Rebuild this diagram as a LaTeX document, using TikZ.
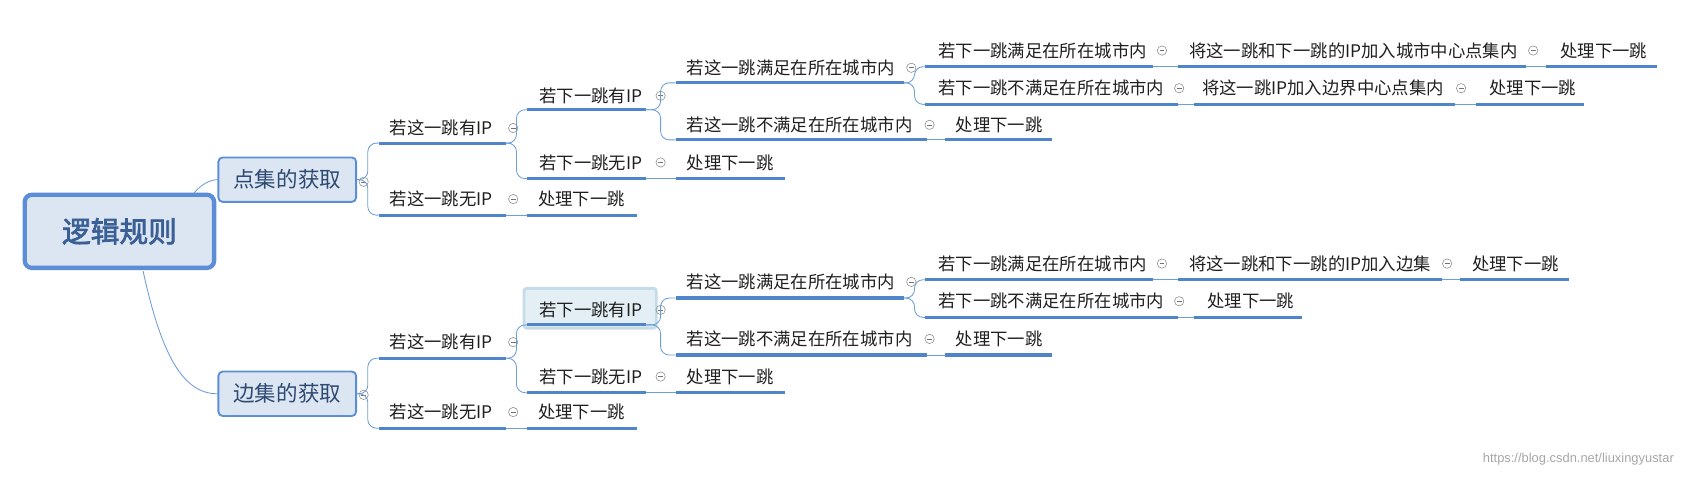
\documentclass[tikz,border=0pt]{standalone}
\usepackage{fontspec}
\setmainfont{Liberation Sans}
\newfontfamily\cjk[AutoFakeBold=2.5]{Noto Sans CJK SC}
\definecolor{ulc}{HTML}{5085CB}
\definecolor{conc}{HTML}{6E9ED8}
\definecolor{boxd}{HTML}{5B8ED6}
\definecolor{boxf}{HTML}{DCE6F2}
\definecolor{txtb}{HTML}{2E4A72}
\definecolor{roott}{HTML}{3A5F95}
\definecolor{hlf}{HTML}{E3EFF4}
\definecolor{hld}{HTML}{C5DCE8}
\tikzset{
  lbl/.style={inner sep=0pt,anchor=west,font=\cjk\fontsize{12.1}{14}\selectfont,text=black!88},
  ul/.style={draw=ulc,line width=2.2pt},
  con/.style={draw=conc,line width=0.6pt},
  cir/.style={circle,draw=black!45,line width=0.4pt,minimum size=6.5pt,inner sep=0pt,
    path picture={\draw[black!55,line width=0.4pt] ([xshift=-1.7pt]path picture bounding box.center) -- ([xshift=1.7pt]path picture bounding box.center);}},
  bx/.style={draw=boxd,fill=boxf,line width=1.3pt,rounded corners=3pt,minimum width=96pt,minimum height=31pt,font=\cjk\fontsize{15}{17}\selectfont,text=txtb},
}
\newcommand\itm[7]{\node[lbl] (#1) at (#2,#3) {#7};\coordinate (#1s) at (#4,#6);\coordinate (#1e) at (#5,#6);\draw[ul] (#1s) -- (#1e);}
\newcommand\cirat[2]{\node[cir] at (#1,#2) {};}
\newcommand\lnk[2]{\draw[con] (#1e) -- (#2s);}
\newcommand\brk[3]{\draw[con,rounded corners=6pt] (#1) -- ++(#2,0) |- (#3);}
\begin{document}
\begin{tikzpicture}[x=0.75pt,y=-0.75pt]
\useasboundingbox (0,0) rectangle (1568,445);
% root
\node[draw=boxd,fill=boxf,line width=3pt,rounded corners=5pt,minimum width=132pt,minimum height=51pt,font=\cjk\bfseries\fontsize{20}{22}\selectfont,text=roott] (root) at (111,215) {逻辑规则};
\node[bx] (P) at (267,167) {点集的获取};
\node[bx] (E) at (267,366) {边集的获取};
\coordinate (r1) at (180,180);
\coordinate (r2) at (133,252);
\draw[con] (r1) .. controls (186,172) and (195,167) .. (P.west);
\draw[con] (r2) .. controls (150,330) and (170,366) .. (E.west);
\cirat{338}{169}\cirat{338}{367}
% ---------- top ----------
\itm{a1}{362}{119}{352}{470}{133}{若这一跳有IP}\cirat{477}{119}
\itm{a2}{362}{185}{352}{470}{200}{若这一跳无IP}\cirat{477}{185}
\brk{P.east}{10}{a1s}\brk{P.east}{10}{a2s}
\itm{a2c}{500}{185}{490}{592}{200}{处理下一跳}\lnk{a2}{a2c}
\itm{b1}{501}{89}{490}{600}{102}{若下一跳有IP}\cirat{614}{89}
\itm{b2}{501}{151}{490}{600}{166}{若下一跳无IP}\cirat{614}{151}
\brk{a1e}{10}{b1s}\brk{a1e}{10}{b2s}
\itm{b2c}{638}{151}{628}{730}{166}{处理下一跳}\lnk{b2}{b2c}
\itm{c1}{638}{63}{628}{840}{77}{若这一跳满足在所在城市内}\cirat{847}{63}
\itm{c2}{638}{116}{628}{862}{130}{若这一跳不满足在所在城市内}\cirat{864}{116}
\brk{b1e}{14}{c1s}\brk{b1e}{14}{c2s}
\itm{c2c}{888}{116}{878}{978}{130}{处理下一跳}\lnk{c2}{c2c}
\itm{d1}{872}{47}{860}{1072}{62}{若下一跳满足在所在城市内}\cirat{1080}{47}
\itm{d2}{872}{82}{860}{1095}{97}{若下一跳不满足在所在城市内}\cirat{1096}{82}
\brk{c1e}{10}{d1s}\brk{c1e}{10}{d2s}
\itm{d1a}{1105}{47}{1095}{1418}{62}{将这一跳和下一跳的IP加入城市中心点集内}\cirat{1425}{47}\lnk{d1}{d1a}
\itm{d1b}{1450}{47}{1437}{1540}{62}{处理下一跳}\lnk{d1a}{d1b}
\itm{d2a}{1117}{82}{1110}{1352}{97}{将这一跳IP加入边界中心点集内}\cirat{1358}{82}\lnk{d2}{d2a}
\itm{d2b}{1384}{82}{1372}{1472}{97}{处理下一跳}\lnk{d2a}{d2b}
% ---------- bottom ----------
\itm{e1}{362}{318}{352}{470}{333}{若这一跳有IP}\cirat{477}{318}
\itm{e2}{362}{383}{352}{470}{398}{若这一跳无IP}\cirat{477}{383}
\brk{E.east}{10}{e1s}\brk{E.east}{10}{e2s}
\itm{e2c}{500}{383}{490}{592}{398}{处理下一跳}\lnk{e2}{e2c}
\draw[fill=hlf,draw=hld,line width=2pt,rounded corners=2pt] (487,268) rectangle (610,305);
\itm{f1}{501}{288}{490}{600}{302}{若下一跳有IP}\cirat{614}{288}
\itm{f2}{501}{350}{490}{600}{365}{若下一跳无IP}\cirat{614}{350}
\brk{e1e}{10}{f1s}\brk{e1e}{10}{f2s}
\itm{f2c}{638}{350}{628}{730}{365}{处理下一跳}\lnk{f2}{f2c}
\itm{g1}{638}{262}{628}{840}{277}{若这一跳满足在所在城市内}\cirat{847}{262}
\itm{g2}{638}{315}{628}{862}{330}{若这一跳不满足在所在城市内}\cirat{864}{315}
\brk{f1e}{14}{g1s}\brk{f1e}{14}{g2s}
\itm{g2c}{888}{315}{878}{978}{330}{处理下一跳}\lnk{g2}{g2c}
\itm{h1}{872}{245}{860}{1072}{260}{若下一跳满足在所在城市内}\cirat{1080}{245}
\itm{h2}{872}{280}{860}{1095}{295}{若下一跳不满足在所在城市内}\cirat{1096}{280}
\brk{g1e}{10}{h1s}\brk{g1e}{10}{h2s}
\itm{h1a}{1105}{245}{1095}{1340}{260}{将这一跳和下一跳的IP加入边集}\cirat{1345}{245}\lnk{h1}{h1a}
\itm{h1b}{1368}{245}{1357}{1458}{260}{处理下一跳}\lnk{h1a}{h1b}
\itm{h2a}{1122}{280}{1110}{1210}{295}{处理下一跳}\lnk{h2}{h2a}
\node[anchor=east,inner sep=0pt,text=black!35,font=\fontsize{9}{10}\selectfont] (wm) at (1556,427) {https://blog.csdn.net/liuxingyustar};
\end{tikzpicture}
\end{document}
